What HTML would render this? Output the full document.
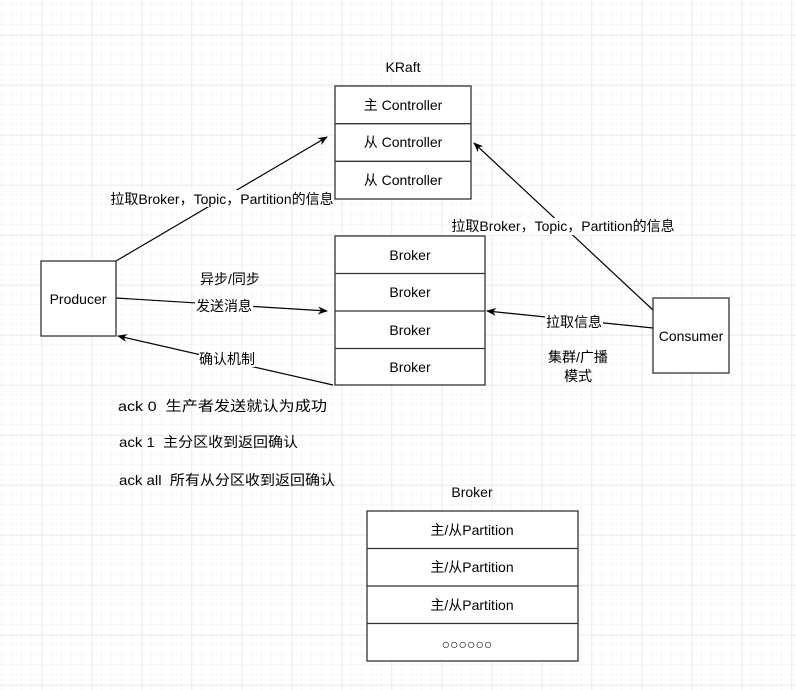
<!DOCTYPE html>
<html><head><meta charset="utf-8"><style>
html,body{margin:0;padding:0;background:#fff}
svg{display:block}
text{font-family:"Liberation Sans","Noto Sans CJK SC",sans-serif;font-size:14px;fill:#000;white-space:pre}
</style></head><body>
<svg width="796" height="690" xmlns="http://www.w3.org/2000/svg">
<defs>
<pattern id="minor" x="1.7" y="5" width="10" height="10" patternUnits="userSpaceOnUse"><path d="M10 0V10M0 10H10" stroke="#f0f0f0" stroke-width="1" fill="none"/></pattern>
<pattern id="major" x="41.7" y="35" width="50" height="50" patternUnits="userSpaceOnUse"><path d="M0 0V50M0 0H50" stroke="#e2e2e2" stroke-width="1" fill="none"/></pattern>
<marker id="ar" markerWidth="10" markerHeight="10" refX="9" refY="5" orient="auto" markerUnits="userSpaceOnUse"><path d="M0,1 L10,5 L0,9 L3,5 Z" fill="#000"/></marker>
</defs>
<rect width="796" height="690" fill="url(#minor)"/>
<rect width="796" height="690" fill="url(#major)"/>
<g stroke="#000" stroke-width="1.2" fill="none">
<line x1="116" y1="261" x2="327" y2="137" marker-end="url(#ar)"/>
<line x1="116" y1="298" x2="327" y2="311" marker-end="url(#ar)"/>
<line x1="333" y1="385" x2="118" y2="336" marker-end="url(#ar)"/>
<line x1="653" y1="310" x2="474" y2="143" marker-end="url(#ar)"/>
<line x1="653" y1="328" x2="487" y2="311" marker-end="url(#ar)"/>
</g>
<g fill="#fff" stroke="#333" stroke-width="1.3">
<rect x="335" y="86" width="136" height="113"/>
<line x1="335" y1="123.7" x2="471" y2="123.7"/><line x1="335" y1="161.3" x2="471" y2="161.3"/>
<rect x="335" y="236" width="150" height="149"/>
<line x1="335" y1="273.5" x2="485" y2="273.5"/><line x1="335" y1="311" x2="485" y2="311"/><line x1="335" y1="348.5" x2="485" y2="348.5"/>
<rect x="41" y="261" width="75" height="75"/>
<rect x="653" y="298" width="76" height="75"/>
<rect x="367" y="511" width="211" height="150"/>
<line x1="367" y1="548.5" x2="578" y2="548.5"/><line x1="367" y1="586" x2="578" y2="586"/><line x1="367" y1="623.5" x2="578" y2="623.5"/>
</g>
<g fill="#fff">
<rect x="113" y="190" width="220" height="17"/>
<rect x="195" y="299" width="58" height="16"/>
<rect x="199" y="352" width="56" height="15"/>
<rect x="453" y="218" width="222" height="17"/>
<rect x="545" y="314" width="58" height="16"/>
</g>
<g text-anchor="middle">
<text x="403" y="72">KRaft</text>
<text x="403" y="110">主 Controller</text>
<text x="403" y="147">从 Controller</text>
<text x="403" y="185">从 Controller</text>
<text x="410" y="260">Broker</text>
<text x="410" y="297">Broker</text>
<text x="410" y="335">Broker</text>
<text x="410" y="372">Broker</text>
<text x="78" y="304">Producer</text>
<text x="691" y="341">Consumer</text>
<text x="472" y="497">Broker</text>
<text x="472" y="535">主/从Partition</text>
<text x="472" y="572">主/从Partition</text>
<text x="472" y="610">主/从Partition</text>
<text x="467" y="649" font-size="9">○○○○○○</text>
<text x="222" y="204" font-size="13">拉取Broker，Topic，Partition的信息</text>
<text x="563" y="231" font-size="13">拉取Broker，Topic，Partition的信息</text>
<text x="230" y="284" font-size="13">异步/同步</text>
<text x="224" y="311" font-size="13">发送消息</text>
<text x="227" y="364" font-size="13">确认机制</text>
<text x="574" y="327" font-size="13">拉取信息</text>
<text x="578" y="362" font-size="13">集群/广播</text>
<text x="578" y="381" font-size="13">模式</text>
</g>
<text x="118" y="411" textLength="209" lengthAdjust="spacingAndGlyphs">ack 0  生产者发送就认为成功</text>
<text x="119" y="447" textLength="179" lengthAdjust="spacingAndGlyphs">ack 1  主分区收到返回确认</text>
<text x="119" y="485" textLength="216" lengthAdjust="spacingAndGlyphs">ack all  所有从分区收到返回确认</text>
</svg>
</body></html>
